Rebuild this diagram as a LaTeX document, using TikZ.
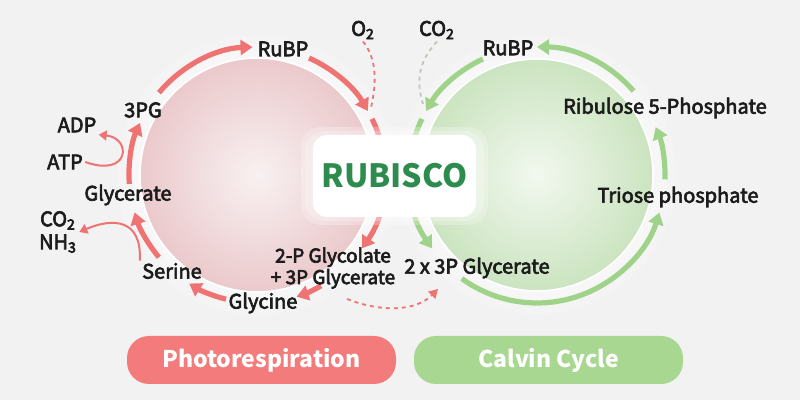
\documentclass[tikz,border=0pt]{standalone}
\usepackage{fontspec}
\setmainfont{Noto Sans CJK KR}
\usepackage{tikz}
\usetikzlibrary{arrows.meta,calc}
\definecolor{background}{HTML}{F2F2F2}
\definecolor{photo}{HTML}{F07373}
\definecolor{photopill}{HTML}{F47B7B}
\definecolor{calvin}{HTML}{A0D38A}
\definecolor{calvinpill}{HTML}{A8D792}
\definecolor{rubisco}{HTML}{2E8B4E}
\definecolor{photoedge}{HTML}{EBC9CC}
\definecolor{photomid}{HTML}{F8F1F1}
\definecolor{calvinedge}{HTML}{CBE4C0}
\definecolor{calvinmid}{HTML}{F2F8EF}
\definecolor{gasline}{HTML}{BCC8B5}
\definecolor{ink}{HTML}{1C1C1C}
\newcommand{\thicktext}{\special{pdf:literal direct 2 Tr 0.32 w}}
\newcommand{\plaintext}{\special{pdf:literal direct 0 Tr}}
\tikzset{%
    >={Triangle[length=6pt,width=7.5pt]},
    cyclearrow/.style={line width=2.6pt,->},
    sidearrow/.style={line width=1pt,-{Triangle[length=4pt,width=5pt]}},
    gasdash/.style={line width=0.9pt,dash pattern=on 2pt off 2pt},
    lbl/.style={font=\fontsize{10}{11.5}\selectfont,text=ink,inner sep=1pt,align=center,
        execute at begin node=\thicktext,execute at end node=\plaintext},
    pill/.style={rounded corners=11pt,minimum width=134.5pt,minimum height=24pt,
        text=white,font=\bfseries\fontsize{11.5}{12}\selectfont},
    enzyme/.style={fill=white,rounded corners=7pt,minimum width=81.5pt,minimum height=41pt,
        text=rubisco,font=\bfseries\fontsize{16}{18}\selectfont},
    halo/.style={fill=white,opacity=0.25,rounded corners=10pt},
    glow/.style={fill=white,opacity=0.22}
}
\begin{document}
\begin{tikzpicture}[x=0.5pt,y=0.5pt]
        \fill[background] (0,0) rectangle (800,400);
        \useasboundingbox (0,0) rectangle (800,400);

        \coordinate (lc) at (257,225);
        \coordinate (rc) at (537,225);

        % soft glow round the cycles
        \fill[glow] (lc) circle [radius=140];
        \fill[glow] (lc) circle [radius=131];
        \fill[glow] (lc) circle [radius=124];
        \fill[glow] (rc) circle [radius=139];
        \fill[glow] (rc) circle [radius=130];
        \fill[glow] (rc) circle [radius=123];

        % the two cycles
        \shade[inner color=photomid, outer color=photoedge] (lc) circle [radius=117];
        \shade[inner color=calvinmid, outer color=calvinedge] (rc) circle [radius=116];
        \draw[white, line width=0.8pt] (lc) circle [radius=117];
        \draw[white, line width=0.8pt] (rc) circle [radius=116];

        % photorespiration
        \draw[photo,cyclearrow] ([shift={(140:128)}]lc) arc[start angle=140,end angle=92,radius=128];
        \draw[photo,cyclearrow] ([shift={(66:128)}]lc) arc[start angle=66,end angle=30,radius=128];
        \draw[photo,cyclearrow] ([shift={(26:128)}]lc) arc[start angle=26,end angle=-35,radius=128];
        \draw[photo,cyclearrow] ([shift={(-60:128)}]lc) arc[start angle=-60,end angle=-72,radius=128];
        \draw[photo,cyclearrow] ([shift={(-104:128)}]lc) arc[start angle=-104,end angle=-122,radius=128];
        \draw[photo,cyclearrow] ([shift={(-140:128)}]lc) arc[start angle=-140,end angle=-163,radius=128];
        \draw[photo,cyclearrow] ([shift={(-176:128)}]lc) arc[start angle=-176,end angle=-204,radius=128];

        % calvin cycle
        \draw[calvin,cyclearrow] ([shift={(41:128)}]rc) arc[start angle=41,end angle=90,radius=128];
        \draw[calvin,cyclearrow] ([shift={(115:128)}]rc) arc[start angle=115,end angle=150,radius=128];
        \draw[calvin,cyclearrow] ([shift={(154:128)}]rc) arc[start angle=154,end angle=215,radius=128];
        \draw[calvin,cyclearrow] ([shift={(-126:128)}]rc) arc[start angle=-126,end angle=-17,radius=128];
        \draw[calvin,cyclearrow] ([shift={(-2:128)}]rc) arc[start angle=-2,end angle=22,radius=128];

        % enzyme box
        \fill[halo] (301,175) rectangle (488,273);
        \fill[halo] (305,179) rectangle (484,269);
        \node[enzyme] (rubisco) at (394.5,224) {RUBISCO};

        % labels
        \node[lbl] (rubpl) at (283,351) {RuBP};
        \node[lbl] (pga) at (143,290) {3PG};
        \node[lbl] (adp) at (77,275) {ADP};
        \node[lbl] (atp) at (65,238) {ATP};
        \node[lbl] (glycerate) at (128,205) {Glycerate};
        \node[lbl] (release) at (58,168) {CO\textsubscript{2}\\NH\textsubscript{3}};
        \node[lbl] (serine) at (172,129) {Serine};
        \node[lbl] (glycine) at (263,97) {Glycine};
        \node[lbl, font=\fontsize{9.5}{9}\selectfont] (glycolate) at (333,132) {2-P Glycolate\\+ 3P Glycerate};
        \node[lbl] (otwo) at (363,370) {O\textsubscript{2}};
        \node[lbl] (rubpr) at (508,352) {RuBP};
        \node[lbl] (cotwo) at (437,370) {CO\textsubscript{2}};
        \node[lbl] (ribulose) at (665,292) {Ribulose 5-Phosphate};
        \node[lbl] (triose) at (678,203) {Triose phosphate};
        \node[lbl] (threep) at (477,132) {2 x 3P Glycerate};

        % side reactions
        \draw[photo,sidearrow] (atp.east) .. controls (130,222) and (132,262) .. (adp.south east);
        \draw[photo,sidearrow] (serine.north west) .. controls (142,182) and (112,182) .. (release.east);

        % gases in and out
        \coordinate (oin) at (371,292);
        \coordinate (coin) at (423,296);
        \coordinate (dashend) at (438,111);
        \draw[photo,gasdash] (otwo.south) .. controls (378,340) and (376,315) .. (oin);
        \draw[gasline,gasdash] (cotwo.south) .. controls (418,338) and (416,318) .. (coin);
        \draw[photo,gasdash,-{Triangle[length=4.5pt,width=5pt]}] (glycolate.south) ++(14,-8) .. controls (380,88) and (415,88) .. (dashend);

        % legend
        \node[pill,fill=photopill] (photoleg) at (261.5,40) {Photorespiration};
        \node[pill,fill=calvinpill] (calvinleg) at (548.5,40) {Calvin Cycle};
    \end{tikzpicture}
\end{document}
